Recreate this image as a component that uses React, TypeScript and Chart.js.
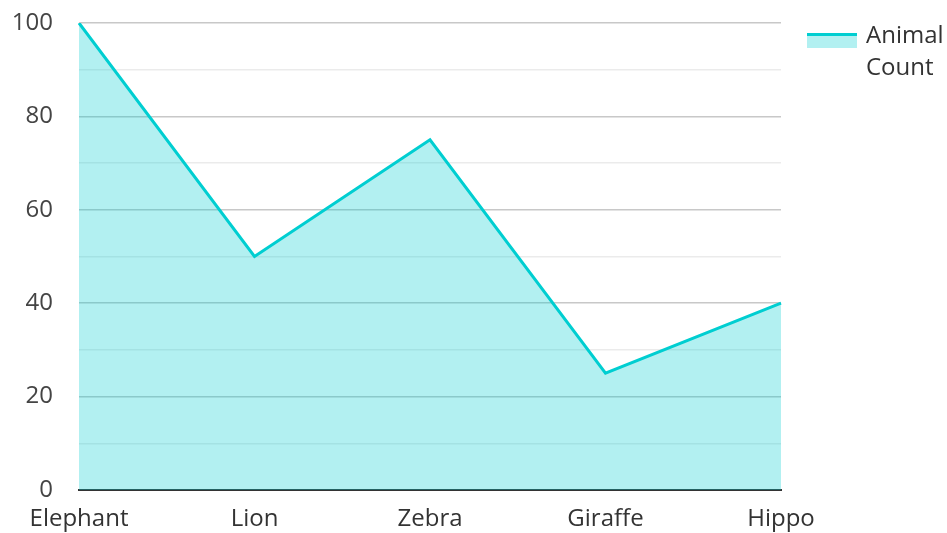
import React, { useEffect, useRef } from "react";
import { Chart, registerables } from "chart.js";

Chart.register(...registerables);

const categories = ["Elephant", "Lion", "Zebra", "Giraffe", "Hippo"];
const animalCount = [100, 50, 75, 25, 40];
const seriesLabel = ["Animal", "Count"];
const yTickValues = [0, 20, 40, 60, 80, 100];

const LINE = "#00CED1";
const FILL = "rgba(0, 206, 209, 0.3)";
const FONT = "'Open Sans', sans-serif";
const FS = 24;

// Legend drawn to the right of the plot area (reserved via layout padding)
const sideLegend = {
  id: "sideLegend",
  afterDraw(chart: any) {
    const ctx = chart.ctx;
    const area = chart.chartArea;
    const boxX = area.right + 26;
    const boxY = 33;
    const boxW = 50;
    const boxH = 15;
    ctx.save();
    ctx.fillStyle = FILL;
    ctx.fillRect(boxX, boxY, boxW, boxH);
    ctx.fillStyle = LINE;
    ctx.fillRect(boxX, boxY, boxW, 3);
    ctx.fillStyle = "#333";
    ctx.font = `${FS}px ${FONT}`;
    ctx.textBaseline = "alphabetic";
    ctx.textAlign = "left";
    const textX = boxX + boxW + 9;
    seriesLabel.forEach((t, i) => {
      ctx.fillText(t, textX, 43 + i * 32);
    });
    ctx.restore();
  },
};

export default function App() {
  const ref = useRef<HTMLCanvasElement>(null);
  useEffect(() => {
    document.body.style.margin = "0";
    const chart = new Chart(ref.current!, {
      type: "line",
      data: {
        labels: categories,
        datasets: [
          {
            label: seriesLabel.join(" "),
            data: animalCount,
            borderColor: LINE,
            backgroundColor: FILL,
            borderWidth: 3,
            fill: "origin",
            tension: 0,
            pointRadius: 0,
          },
        ],
      },
      options: {
        animation: false,
        responsive: true,
        maintainAspectRatio: false,
        layout: { padding: { top: 23, left: 12, right: 166, bottom: 0 } },
        plugins: {
          tooltip: { enabled: false },
          legend: { display: false },
        },
        scales: {
          x: {
            offset: false,
            grid: { display: false, drawTicks: false },
            border: { display: true, color: "#333", width: 2 },
            ticks: {
              color: "#333",
              font: { family: FONT, size: FS },
              padding: 15,
              maxRotation: 0,
              autoSkip: false,
            },
            afterFit: (s: any) => {
              s.height = 43;
              s.paddingLeft = 0;
              s.paddingRight = 0;
            },
          },
          y: {
            min: 0,
            max: 100,
            grid: {
              drawTicks: false,
              color: (c: any) =>
                yTickValues.includes(c.tick?.value) ? "#c8c8c8" : "#ebebeb",
              lineWidth: 1.5,
            },
            border: { display: false },
            ticks: {
              stepSize: 10,
              color: "#444",
              font: { family: FONT, size: FS },
              padding: 26,
              autoSkip: false,
              callback: (v: any) => (yTickValues.includes(Number(v)) ? String(v) : ""),
            },
            afterFit: (s: any) => {
              s.width = 67;
              s.paddingTop = 0;
              s.paddingBottom = 0;
            },
          },
        },
      },
      plugins: [sideLegend],
    });
    return () => chart.destroy();
  }, []);
  return (
    <div style={{ width: 947, height: 533, position: "relative" }}>
      <canvas ref={ref} />
    </div>
  );
}
